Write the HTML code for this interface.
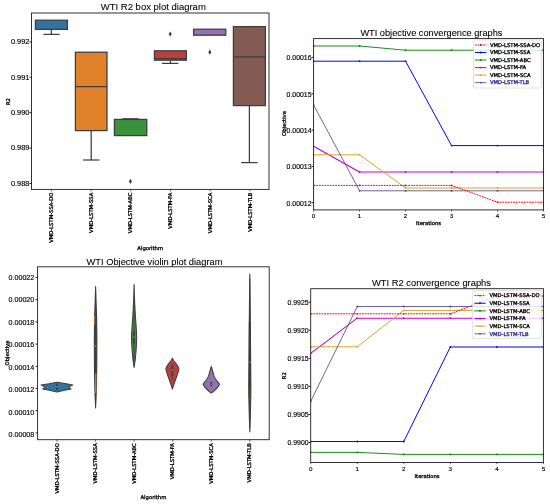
<!DOCTYPE html>
<html lang="en"><head><meta charset="utf-8"><title>WTI plots</title>
<style>html,body{margin:0;padding:0;background:#fff}svg{display:block}</style></head>
<body>
<svg width="550" height="504" viewBox="0 0 550 504">
<rect x="0" y="0" width="550" height="504" fill="#ffffff"/>
<text x="153.30" y="10.00" font-size="9.3" text-anchor="middle" font-family="Liberation Sans, Arial, sans-serif" stroke="#000" stroke-width="0.08" fill="#000" textLength="105.00" lengthAdjust="spacingAndGlyphs" >WTI R2 box plot diagram</text>
<text x="29.50" y="44.18" font-size="7.45" text-anchor="end" font-family="Liberation Sans, Arial, sans-serif" stroke="#000" stroke-width="0.15" fill="#000" >0.992</text>
<text x="29.50" y="79.58" font-size="7.45" text-anchor="end" font-family="Liberation Sans, Arial, sans-serif" stroke="#000" stroke-width="0.15" fill="#000" >0.991</text>
<text x="29.50" y="114.98" font-size="7.45" text-anchor="end" font-family="Liberation Sans, Arial, sans-serif" stroke="#000" stroke-width="0.15" fill="#000" >0.990</text>
<text x="29.50" y="150.38" font-size="7.45" text-anchor="end" font-family="Liberation Sans, Arial, sans-serif" stroke="#000" stroke-width="0.15" fill="#000" >0.989</text>
<text x="29.50" y="185.78" font-size="7.45" text-anchor="end" font-family="Liberation Sans, Arial, sans-serif" stroke="#000" stroke-width="0.15" fill="#000" >0.988</text>
<line x1="29.50" y1="41.90" x2="31.50" y2="41.90" stroke="#000" stroke-width="0.9" />
<line x1="29.50" y1="77.30" x2="31.50" y2="77.30" stroke="#000" stroke-width="0.9" />
<line x1="29.50" y1="112.70" x2="31.50" y2="112.70" stroke="#000" stroke-width="0.9" />
<line x1="29.50" y1="148.10" x2="31.50" y2="148.10" stroke="#000" stroke-width="0.9" />
<line x1="29.50" y1="183.50" x2="31.50" y2="183.50" stroke="#000" stroke-width="0.9" />
<line x1="51.40" y1="29.40" x2="51.40" y2="34.40" stroke="#3d3d3d" stroke-width="1.25" />
<line x1="43.40" y1="34.40" x2="59.60" y2="34.40" stroke="#3d3d3d" stroke-width="1.25" />
<rect x="35.40" y="20.20" width="32.00" height="9.20" fill="#3274a1" stroke="#3d3d3d" stroke-width="1.25" />
<line x1="91.20" y1="130.60" x2="91.20" y2="160.00" stroke="#3d3d3d" stroke-width="1.25" />
<line x1="83.20" y1="160.00" x2="99.40" y2="160.00" stroke="#3d3d3d" stroke-width="1.25" />
<rect x="75.40" y="52.20" width="31.60" height="78.40" fill="#e1812c" stroke="#3d3d3d" stroke-width="1.25" />
<line x1="75.40" y1="86.60" x2="107.00" y2="86.60" stroke="#3d3d3d" stroke-width="1.25" />
<line x1="130.60" y1="119.40" x2="130.60" y2="118.80" stroke="#3d3d3d" stroke-width="1.25" />
<line x1="122.40" y1="118.80" x2="138.80" y2="118.80" stroke="#3d3d3d" stroke-width="1.25" />
<rect x="114.40" y="119.40" width="32.40" height="16.20" fill="#3a923a" stroke="#3d3d3d" stroke-width="1.25" />
<path d="M130.40 178.80 L131.90 181.40 L130.40 184.00 L128.90 181.40 Z" fill="#3d3d3d"/>
<line x1="170.40" y1="60.20" x2="170.40" y2="63.40" stroke="#3d3d3d" stroke-width="1.25" />
<line x1="162.00" y1="63.40" x2="178.40" y2="63.40" stroke="#3d3d3d" stroke-width="1.25" />
<rect x="154.40" y="50.80" width="32.00" height="9.40" fill="#c03d3e" stroke="#3d3d3d" stroke-width="1.25" />
<line x1="154.40" y1="58.60" x2="186.40" y2="58.60" stroke="#3d3d3d" stroke-width="1.25" />
<path d="M170.20 31.40 L171.70 34.00 L170.20 36.60 L168.70 34.00 Z" fill="#3d3d3d"/>
<rect x="193.60" y="29.20" width="32.20" height="6.00" fill="#9372b2" stroke="#3d3d3d" stroke-width="1.25" />
<path d="M209.80 49.60 L211.30 52.20 L209.80 54.80 L208.30 52.20 Z" fill="#3d3d3d"/>
<line x1="249.40" y1="105.60" x2="249.40" y2="162.60" stroke="#3d3d3d" stroke-width="1.25" />
<line x1="241.20" y1="162.60" x2="257.60" y2="162.60" stroke="#3d3d3d" stroke-width="1.25" />
<rect x="233.40" y="26.60" width="32.00" height="79.00" fill="#845b53" stroke="#3d3d3d" stroke-width="1.25" />
<line x1="233.40" y1="56.80" x2="265.40" y2="56.80" stroke="#3d3d3d" stroke-width="1.25" />
<rect x="31.50" y="13.00" width="237.50" height="176.40" fill="none" stroke="#1c1c1c" stroke-width="0.9" />
<line x1="51.40" y1="189.40" x2="51.40" y2="191.40" stroke="#000" stroke-width="0.6" />
<text x="53.10" y="192.60" font-size="5.25" text-anchor="end" font-family="DejaVu Sans, Liberation Sans, sans-serif" stroke-width="0.3" paint-order="stroke" fill="#000" stroke="#000" transform="rotate(-90 53.10 192.60)" >VMD-LSTM-SSA-DO</text>
<line x1="91.10" y1="189.40" x2="91.10" y2="191.40" stroke="#000" stroke-width="0.6" />
<text x="92.80" y="192.60" font-size="5.25" text-anchor="end" font-family="DejaVu Sans, Liberation Sans, sans-serif" stroke-width="0.3" paint-order="stroke" fill="#000" stroke="#000" transform="rotate(-90 92.80 192.60)" >VMD-LSTM-SSA</text>
<line x1="130.80" y1="189.40" x2="130.80" y2="191.40" stroke="#000" stroke-width="0.6" />
<text x="132.50" y="192.60" font-size="5.25" text-anchor="end" font-family="DejaVu Sans, Liberation Sans, sans-serif" stroke-width="0.3" paint-order="stroke" fill="#000" stroke="#000" transform="rotate(-90 132.50 192.60)" >VMD-LSTM-ABC</text>
<line x1="170.50" y1="189.40" x2="170.50" y2="191.40" stroke="#000" stroke-width="0.6" />
<text x="172.20" y="192.60" font-size="5.25" text-anchor="end" font-family="DejaVu Sans, Liberation Sans, sans-serif" stroke-width="0.3" paint-order="stroke" fill="#000" stroke="#000" transform="rotate(-90 172.20 192.60)" >VMD-LSTM-FA</text>
<line x1="210.20" y1="189.40" x2="210.20" y2="191.40" stroke="#000" stroke-width="0.6" />
<text x="211.90" y="192.60" font-size="5.25" text-anchor="end" font-family="DejaVu Sans, Liberation Sans, sans-serif" stroke-width="0.3" paint-order="stroke" fill="#000" stroke="#000" transform="rotate(-90 211.90 192.60)" >VMD-LSTM-SCA</text>
<line x1="249.90" y1="189.40" x2="249.90" y2="191.40" stroke="#000" stroke-width="0.6" />
<text x="251.60" y="192.60" font-size="5.25" text-anchor="end" font-family="DejaVu Sans, Liberation Sans, sans-serif" stroke-width="0.3" paint-order="stroke" fill="#000" stroke="#000" transform="rotate(-90 251.60 192.60)" >VMD-LSTM-TLB</text>
<text x="150.20" y="249.70" font-size="5.25" text-anchor="middle" font-family="DejaVu Sans, Liberation Sans, sans-serif" stroke-width="0.3" paint-order="stroke" fill="#000" stroke="#000" >Algorithm</text>
<text x="9.80" y="101.60" font-size="5.25" text-anchor="middle" font-family="DejaVu Sans, Liberation Sans, sans-serif" stroke-width="0.3" paint-order="stroke" fill="#000" stroke="#000" transform="rotate(-90 9.80 101.60)" >R2</text>
<text x="154.50" y="264.60" font-size="9.3" text-anchor="middle" font-family="Liberation Sans, Arial, sans-serif" stroke="#000" stroke-width="0.08" fill="#000" textLength="135.80" lengthAdjust="spacingAndGlyphs" >WTI Objective violin plot diagram</text>
<text x="34.30" y="279.57" font-size="7.15" text-anchor="end" font-family="Liberation Sans, Arial, sans-serif" stroke="#000" stroke-width="0.15" fill="#000" >0.00022</text>
<text x="34.30" y="302.08" font-size="7.15" text-anchor="end" font-family="Liberation Sans, Arial, sans-serif" stroke="#000" stroke-width="0.15" fill="#000" >0.00020</text>
<text x="34.30" y="324.59" font-size="7.15" text-anchor="end" font-family="Liberation Sans, Arial, sans-serif" stroke="#000" stroke-width="0.15" fill="#000" >0.00018</text>
<text x="34.30" y="347.10" font-size="7.15" text-anchor="end" font-family="Liberation Sans, Arial, sans-serif" stroke="#000" stroke-width="0.15" fill="#000" >0.00016</text>
<text x="34.30" y="369.61" font-size="7.15" text-anchor="end" font-family="Liberation Sans, Arial, sans-serif" stroke="#000" stroke-width="0.15" fill="#000" >0.00014</text>
<text x="34.30" y="392.12" font-size="7.15" text-anchor="end" font-family="Liberation Sans, Arial, sans-serif" stroke="#000" stroke-width="0.15" fill="#000" >0.00012</text>
<text x="34.30" y="414.63" font-size="7.15" text-anchor="end" font-family="Liberation Sans, Arial, sans-serif" stroke="#000" stroke-width="0.15" fill="#000" >0.00010</text>
<text x="34.30" y="437.14" font-size="7.15" text-anchor="end" font-family="Liberation Sans, Arial, sans-serif" stroke="#000" stroke-width="0.15" fill="#000" >0.00008</text>
<line x1="35.60" y1="277.50" x2="37.60" y2="277.50" stroke="#000" stroke-width="0.9" />
<line x1="35.60" y1="299.70" x2="37.60" y2="299.70" stroke="#000" stroke-width="0.9" />
<line x1="35.60" y1="321.90" x2="37.60" y2="321.90" stroke="#000" stroke-width="0.9" />
<line x1="35.60" y1="344.10" x2="37.60" y2="344.10" stroke="#000" stroke-width="0.9" />
<line x1="35.60" y1="366.30" x2="37.60" y2="366.30" stroke="#000" stroke-width="0.9" />
<line x1="35.60" y1="388.50" x2="37.60" y2="388.50" stroke="#000" stroke-width="0.9" />
<line x1="35.60" y1="410.70" x2="37.60" y2="410.70" stroke="#000" stroke-width="0.9" />
<line x1="35.60" y1="432.90" x2="37.60" y2="432.90" stroke="#000" stroke-width="0.9" />
<path d="M41.1 385.1 L49 383.8 L56.9 382.3 L64.8 383.6 L72.8 385.1 L68.6 387.1 L71.0 389.0 L64.5 390.3 L56.9 392.0 L49.3 390.3 L42.8 389.0 L45.2 387.1 Z" fill="#3274a1" stroke="#3d3d3d" stroke-width="1.05" stroke-linejoin="round"/>
<line x1="57.00" y1="383.80" x2="57.00" y2="390.00" stroke="#4a3f3a" stroke-width="2.0" />
<circle cx="57" cy="386.8" r="0.6" fill="#ddd"/>
<path d="M95.60 286.60 L95.67 288.66 L95.72 290.72 L95.78 292.77 L95.85 294.83 L95.91 296.89 L95.97 298.95 L96.04 301.00 L96.12 303.06 L96.19 305.12 L96.27 307.18 L96.35 309.23 L96.42 311.29 L96.50 313.35 L96.56 315.41 L96.61 317.46 L96.64 319.52 L96.67 321.58 L96.70 323.64 L96.72 325.69 L96.75 327.75 L96.77 329.81 L96.80 331.87 L96.82 333.93 L96.85 335.98 L96.87 338.04 L96.88 340.10 L96.88 342.16 L96.87 344.21 L96.86 346.27 L96.85 348.33 L96.84 350.39 L96.82 352.44 L96.81 354.50 L96.80 356.56 L96.79 358.62 L96.77 360.67 L96.76 362.73 L96.75 364.79 L96.74 366.85 L96.72 368.91 L96.71 370.96 L96.68 373.02 L96.65 375.08 L96.60 377.14 L96.55 379.19 L96.50 381.25 L96.45 383.31 L96.41 385.37 L96.36 387.42 L96.31 389.48 L96.26 391.54 L96.19 393.60 L96.12 395.65 L96.04 397.71 L95.95 399.77 L95.86 401.83 L95.78 403.88 L95.70 405.94 L95.60 408.00 L95.60 408.00 L95.50 405.94 L95.42 403.88 L95.34 401.83 L95.25 399.77 L95.16 397.71 L95.08 395.65 L95.01 393.60 L94.94 391.54 L94.89 389.48 L94.84 387.42 L94.79 385.37 L94.75 383.31 L94.70 381.25 L94.65 379.19 L94.60 377.14 L94.55 375.08 L94.52 373.02 L94.49 370.96 L94.48 368.91 L94.46 366.85 L94.45 364.79 L94.44 362.73 L94.43 360.67 L94.41 358.62 L94.40 356.56 L94.39 354.50 L94.38 352.44 L94.36 350.39 L94.35 348.33 L94.34 346.27 L94.33 344.21 L94.32 342.16 L94.32 340.10 L94.33 338.04 L94.35 335.98 L94.38 333.93 L94.40 331.87 L94.43 329.81 L94.45 327.75 L94.48 325.69 L94.50 323.64 L94.53 321.58 L94.56 319.52 L94.59 317.46 L94.64 315.41 L94.70 313.35 L94.78 311.29 L94.85 309.23 L94.93 307.18 L95.01 305.12 L95.08 303.06 L95.16 301.00 L95.23 298.95 L95.29 296.89 L95.35 294.83 L95.42 292.77 L95.48 290.72 L95.53 288.66 L95.60 286.60 Z" fill="#e1812c" stroke="#3d3d3d" stroke-width="1.05" stroke-linejoin="round"/>
<line x1="95.60" y1="290.00" x2="95.60" y2="402.00" stroke="#3d3d3d" stroke-width="0.9" />
<line x1="95.60" y1="318.00" x2="95.60" y2="373.00" stroke="#3d3d3d" stroke-width="2.2" />
<circle cx="95.6" cy="346" r="0.55" fill="#ddd"/>
<line x1="95.75" y1="373.50" x2="95.75" y2="393.00" stroke="#e1812c" stroke-width="1.1" />
<line x1="94.70" y1="316.00" x2="94.70" y2="325.00" stroke="#e1812c" stroke-width="0.7" />
<path d="M134.10 284.40 L134.15 285.81 L134.18 287.22 L134.22 288.63 L134.26 290.03 L134.30 291.44 L134.34 292.85 L134.38 294.26 L134.43 295.67 L134.47 297.08 L134.51 298.48 L134.56 299.89 L134.62 301.30 L134.69 302.71 L134.76 304.12 L134.84 305.53 L134.91 306.94 L134.98 308.34 L135.05 309.75 L135.13 311.16 L135.20 312.57 L135.27 313.98 L135.35 315.39 L135.44 316.79 L135.54 318.20 L135.65 319.61 L135.75 321.02 L135.86 322.43 L135.96 323.84 L136.07 325.25 L136.16 326.65 L136.25 328.06 L136.33 329.47 L136.41 330.88 L136.48 332.29 L136.56 333.70 L136.63 335.11 L136.67 336.51 L136.68 337.92 L136.65 339.33 L136.60 340.74 L136.54 342.15 L136.48 343.56 L136.41 344.96 L136.35 346.37 L136.26 347.78 L136.17 349.19 L136.06 350.60 L135.94 352.01 L135.83 353.42 L135.71 354.82 L135.60 356.23 L135.47 357.64 L135.31 359.05 L135.13 360.46 L134.93 361.87 L134.72 363.27 L134.52 364.68 L134.33 366.09 L134.10 367.50 L134.10 367.50 L133.87 366.09 L133.68 364.68 L133.48 363.27 L133.27 361.87 L133.07 360.46 L132.89 359.05 L132.73 357.64 L132.60 356.23 L132.49 354.82 L132.37 353.42 L132.26 352.01 L132.14 350.60 L132.03 349.19 L131.94 347.78 L131.85 346.37 L131.79 344.96 L131.72 343.56 L131.66 342.15 L131.60 340.74 L131.55 339.33 L131.52 337.92 L131.53 336.51 L131.57 335.11 L131.64 333.70 L131.72 332.29 L131.79 330.88 L131.87 329.47 L131.95 328.06 L132.04 326.65 L132.13 325.25 L132.24 323.84 L132.34 322.43 L132.45 321.02 L132.55 319.61 L132.66 318.20 L132.76 316.79 L132.85 315.39 L132.93 313.98 L133.00 312.57 L133.07 311.16 L133.15 309.75 L133.22 308.34 L133.29 306.94 L133.36 305.53 L133.44 304.12 L133.51 302.71 L133.58 301.30 L133.64 299.89 L133.69 298.48 L133.73 297.08 L133.77 295.67 L133.82 294.26 L133.86 292.85 L133.90 291.44 L133.94 290.03 L133.98 288.63 L134.02 287.22 L134.05 285.81 L134.10 284.40 Z" fill="#3a923a" stroke="#3d3d3d" stroke-width="1.05" stroke-linejoin="round"/>
<line x1="134.10" y1="300.00" x2="134.10" y2="362.00" stroke="#3d3d3d" stroke-width="0.9" />
<line x1="134.10" y1="331.70" x2="134.10" y2="343.70" stroke="#3d3d3d" stroke-width="1.8" />
<circle cx="134.1" cy="337" r="0.55" fill="#ddd"/>
<path d="M172.4 358.0 C173.2 361.5 178.4 365 178.9 369 C178.6 372.5 174.0 383 172.4 389.0 C170.8 383 166.2 372.5 165.9 369 C166.4 365 171.6 361.5 172.4 358.0 Z" fill="#c03d3e" stroke="#3d3d3d" stroke-width="1.05" stroke-linejoin="round"/>
<line x1="172.40" y1="364.00" x2="172.40" y2="380.00" stroke="#3d3d3d" stroke-width="0.9" />
<line x1="172.40" y1="365.50" x2="172.40" y2="376.00" stroke="#3d3d3d" stroke-width="1.7" />
<circle cx="172.4" cy="370" r="0.55" fill="#ddd"/>
<path d="M211.3 366.3 L213.6 374.5 C214.4 378 217.0 381 219.5 384.2 C218.5 386.5 214.5 391.5 211.3 392.9 C208.1 391.5 204.1 386.5 203.1 384.2 C205.6 381 208.2 378 209.0 374.5 Z" fill="#9372b2" stroke="#3d3d3d" stroke-width="1.05" stroke-linejoin="round"/>
<line x1="211.30" y1="381.80" x2="211.30" y2="386.30" stroke="#3d3d3d" stroke-width="2.0" />
<circle cx="211.3" cy="384" r="0.55" fill="#ddd"/>
<path d="M249.80 274.00 L249.83 276.68 L249.86 279.36 L249.89 282.03 L249.92 284.71 L249.95 287.39 L249.99 290.07 L250.02 292.75 L250.05 295.42 L250.08 298.10 L250.11 300.78 L250.13 303.46 L250.16 306.14 L250.19 308.81 L250.21 311.49 L250.24 314.17 L250.27 316.85 L250.30 319.53 L250.32 322.20 L250.35 324.88 L250.37 327.56 L250.40 330.24 L250.42 332.92 L250.45 335.59 L250.47 338.27 L250.49 340.95 L250.51 343.63 L250.54 346.31 L250.56 348.98 L250.58 351.66 L250.60 354.34 L250.63 357.02 L250.65 359.69 L250.67 362.37 L250.69 365.05 L250.71 367.73 L250.74 370.41 L250.76 373.08 L250.78 375.76 L250.80 378.44 L250.83 381.12 L250.85 383.80 L250.86 386.47 L250.87 389.15 L250.85 391.83 L250.81 394.51 L250.76 397.19 L250.70 399.86 L250.65 402.54 L250.59 405.22 L250.54 407.90 L250.47 410.58 L250.39 413.25 L250.31 415.93 L250.23 418.61 L250.14 421.29 L250.06 423.97 L249.97 426.64 L249.89 429.32 L249.80 432.00 L249.80 432.00 L249.71 429.32 L249.63 426.64 L249.54 423.97 L249.46 421.29 L249.37 418.61 L249.29 415.93 L249.21 413.25 L249.13 410.58 L249.06 407.90 L249.01 405.22 L248.95 402.54 L248.90 399.86 L248.84 397.19 L248.79 394.51 L248.75 391.83 L248.73 389.15 L248.74 386.47 L248.75 383.80 L248.77 381.12 L248.80 378.44 L248.82 375.76 L248.84 373.08 L248.86 370.41 L248.89 367.73 L248.91 365.05 L248.93 362.37 L248.95 359.69 L248.97 357.02 L249.00 354.34 L249.02 351.66 L249.04 348.98 L249.06 346.31 L249.09 343.63 L249.11 340.95 L249.13 338.27 L249.15 335.59 L249.18 332.92 L249.20 330.24 L249.23 327.56 L249.25 324.88 L249.28 322.20 L249.30 319.53 L249.33 316.85 L249.36 314.17 L249.39 311.49 L249.41 308.81 L249.44 306.14 L249.47 303.46 L249.49 300.78 L249.52 298.10 L249.55 295.42 L249.58 292.75 L249.61 290.07 L249.65 287.39 L249.68 284.71 L249.71 282.03 L249.74 279.36 L249.77 276.68 L249.80 274.00 Z" fill="#845b53" stroke="#3d3d3d" stroke-width="1.05" stroke-linejoin="round"/>
<line x1="249.80" y1="278.00" x2="249.80" y2="428.00" stroke="#3d3d3d" stroke-width="0.9" />
<line x1="249.80" y1="322.00" x2="249.80" y2="398.00" stroke="#3d3d3d" stroke-width="2.0" />
<circle cx="249.8" cy="362" r="0.55" fill="#ddd"/>
<line x1="249.90" y1="386.00" x2="249.90" y2="400.00" stroke="#6e4a42" stroke-width="0.9" />
<rect x="37.60" y="266.80" width="231.60" height="172.90" fill="none" stroke="#1c1c1c" stroke-width="0.9" />
<line x1="57.00" y1="439.70" x2="57.00" y2="441.70" stroke="#000" stroke-width="0.6" />
<text x="58.70" y="443.20" font-size="5.25" text-anchor="end" font-family="DejaVu Sans, Liberation Sans, sans-serif" stroke-width="0.3" paint-order="stroke" fill="#000" stroke="#000" transform="rotate(-90 58.70 443.20)" >VMD-LSTM-SSA-DO</text>
<line x1="95.56" y1="439.70" x2="95.56" y2="441.70" stroke="#000" stroke-width="0.6" />
<text x="97.26" y="443.20" font-size="5.25" text-anchor="end" font-family="DejaVu Sans, Liberation Sans, sans-serif" stroke-width="0.3" paint-order="stroke" fill="#000" stroke="#000" transform="rotate(-90 97.26 443.20)" >VMD-LSTM-SSA</text>
<line x1="134.12" y1="439.70" x2="134.12" y2="441.70" stroke="#000" stroke-width="0.6" />
<text x="135.82" y="443.20" font-size="5.25" text-anchor="end" font-family="DejaVu Sans, Liberation Sans, sans-serif" stroke-width="0.3" paint-order="stroke" fill="#000" stroke="#000" transform="rotate(-90 135.82 443.20)" >VMD-LSTM-ABC</text>
<line x1="172.68" y1="439.70" x2="172.68" y2="441.70" stroke="#000" stroke-width="0.6" />
<text x="174.38" y="443.20" font-size="5.25" text-anchor="end" font-family="DejaVu Sans, Liberation Sans, sans-serif" stroke-width="0.3" paint-order="stroke" fill="#000" stroke="#000" transform="rotate(-90 174.38 443.20)" >VMD-LSTM-FA</text>
<line x1="211.24" y1="439.70" x2="211.24" y2="441.70" stroke="#000" stroke-width="0.6" />
<text x="212.94" y="443.20" font-size="5.25" text-anchor="end" font-family="DejaVu Sans, Liberation Sans, sans-serif" stroke-width="0.3" paint-order="stroke" fill="#000" stroke="#000" transform="rotate(-90 212.94 443.20)" >VMD-LSTM-SCA</text>
<line x1="249.80" y1="439.70" x2="249.80" y2="441.70" stroke="#000" stroke-width="0.6" />
<text x="251.50" y="443.20" font-size="5.25" text-anchor="end" font-family="DejaVu Sans, Liberation Sans, sans-serif" stroke-width="0.3" paint-order="stroke" fill="#000" stroke="#000" transform="rotate(-90 251.50 443.20)" >VMD-LSTM-TLB</text>
<text x="153.40" y="499.00" font-size="5.25" text-anchor="middle" font-family="DejaVu Sans, Liberation Sans, sans-serif" stroke-width="0.3" paint-order="stroke" fill="#000" stroke="#000" >Algorithm</text>
<text x="9.30" y="353.00" font-size="5.25" text-anchor="middle" font-family="DejaVu Sans, Liberation Sans, sans-serif" stroke-width="0.3" paint-order="stroke" fill="#000" stroke="#000" transform="rotate(-90 9.30 353.00)" >Objective</text>
<text x="431.40" y="36.00" font-size="9.3" text-anchor="middle" font-family="Liberation Sans, Arial, sans-serif" stroke="#000" stroke-width="0.08" fill="#000" textLength="142.00" lengthAdjust="spacingAndGlyphs" >WTI objective convergence graphs</text>
<text x="311.50" y="60.28" font-size="6.9" text-anchor="end" font-family="Liberation Sans, Arial, sans-serif" stroke="#000" stroke-width="0.15" fill="#000" >0.00016</text>
<text x="311.50" y="96.68" font-size="6.9" text-anchor="end" font-family="Liberation Sans, Arial, sans-serif" stroke="#000" stroke-width="0.15" fill="#000" >0.00015</text>
<text x="311.50" y="132.98" font-size="6.9" text-anchor="end" font-family="Liberation Sans, Arial, sans-serif" stroke="#000" stroke-width="0.15" fill="#000" >0.00014</text>
<text x="311.50" y="169.28" font-size="6.9" text-anchor="end" font-family="Liberation Sans, Arial, sans-serif" stroke="#000" stroke-width="0.15" fill="#000" >0.00013</text>
<text x="311.50" y="205.58" font-size="6.9" text-anchor="end" font-family="Liberation Sans, Arial, sans-serif" stroke="#000" stroke-width="0.15" fill="#000" >0.00012</text>
<line x1="311.60" y1="57.40" x2="313.60" y2="57.40" stroke="#000" stroke-width="0.9" />
<line x1="311.60" y1="93.80" x2="313.60" y2="93.80" stroke="#000" stroke-width="0.9" />
<line x1="311.60" y1="130.10" x2="313.60" y2="130.10" stroke="#000" stroke-width="0.9" />
<line x1="311.60" y1="166.40" x2="313.60" y2="166.40" stroke="#000" stroke-width="0.9" />
<line x1="311.60" y1="202.70" x2="313.60" y2="202.70" stroke="#000" stroke-width="0.9" />
<clipPath id="c38"><rect x="313.6" y="38.6" width="229.89999999999998" height="171.3"/></clipPath>
<g clip-path="url(#c38)">
<polyline points="313.60,46.00 359.58,46.00 405.56,50.20 451.54,50.20 497.52,50.20 543.50,50.20" fill="none" stroke="#008000" stroke-width="0.9" stroke-linejoin="round"/>
<circle cx="313.60" cy="46.00" r="0.9" fill="#008000"/>
<circle cx="359.58" cy="46.00" r="0.9" fill="#008000"/>
<circle cx="405.56" cy="50.20" r="0.9" fill="#008000"/>
<circle cx="451.54" cy="50.20" r="0.9" fill="#008000"/>
<circle cx="497.52" cy="50.20" r="0.9" fill="#008000"/>
<circle cx="543.50" cy="50.20" r="0.9" fill="#008000"/>
<polyline points="313.60,61.20 359.58,61.20 405.56,61.20 451.54,145.60 497.52,145.60 543.50,145.60" fill="none" stroke="#0000ff" stroke-width="1.0" stroke-linejoin="round"/>
<circle cx="313.60" cy="61.20" r="0.9" fill="#0000ff"/>
<circle cx="359.58" cy="61.20" r="0.9" fill="#0000ff"/>
<circle cx="405.56" cy="61.20" r="0.9" fill="#0000ff"/>
<circle cx="451.54" cy="145.60" r="0.9" fill="#0000ff"/>
<circle cx="497.52" cy="145.60" r="0.9" fill="#0000ff"/>
<circle cx="543.50" cy="145.60" r="0.9" fill="#0000ff"/>
<polyline points="313.60,146.20 359.58,172.00 405.56,172.00 451.54,172.00 497.52,172.00 543.50,172.00" fill="none" stroke="#c800d8" stroke-width="1.05" stroke-linejoin="round"/>
<circle cx="313.60" cy="146.20" r="0.9" fill="#c800d8"/>
<circle cx="359.58" cy="172.00" r="0.9" fill="#c800d8"/>
<circle cx="405.56" cy="172.00" r="0.9" fill="#c800d8"/>
<circle cx="451.54" cy="172.00" r="0.9" fill="#c800d8"/>
<circle cx="497.52" cy="172.00" r="0.9" fill="#c800d8"/>
<circle cx="543.50" cy="172.00" r="0.9" fill="#c800d8"/>
<polyline points="313.60,154.80 359.58,154.80 405.56,188.00 451.54,188.00 497.52,188.00 543.50,188.00" fill="none" stroke="#daa520" stroke-width="1.0" stroke-linejoin="round"/>
<circle cx="313.60" cy="154.80" r="0.9" fill="#daa520"/>
<circle cx="359.58" cy="154.80" r="0.9" fill="#daa520"/>
<circle cx="405.56" cy="188.00" r="0.9" fill="#daa520"/>
<circle cx="451.54" cy="188.00" r="0.9" fill="#daa520"/>
<circle cx="497.52" cy="188.00" r="0.9" fill="#daa520"/>
<circle cx="543.50" cy="188.00" r="0.9" fill="#daa520"/>
<polyline points="313.60,105.00 359.58,190.80 405.56,190.80 451.54,190.80 497.52,190.80 543.50,190.80" fill="none" stroke="#483d8b" stroke-width="0.8" stroke-linejoin="round"/>
<circle cx="313.60" cy="105.00" r="0.9" fill="#483d8b"/>
<circle cx="359.58" cy="190.80" r="0.9" fill="#483d8b"/>
<circle cx="405.56" cy="190.80" r="0.9" fill="#483d8b"/>
<circle cx="451.54" cy="190.80" r="0.9" fill="#483d8b"/>
<circle cx="497.52" cy="190.80" r="0.9" fill="#483d8b"/>
<circle cx="543.50" cy="190.80" r="0.9" fill="#483d8b"/>
<polyline points="313.60,185.40 359.58,185.40 405.56,185.40 451.54,185.40 497.52,202.20 543.50,202.20" fill="none" stroke="#ff0000" stroke-width="1.0" stroke-dasharray="1.8 0.9" stroke-linejoin="round"/>
<circle cx="313.60" cy="185.40" r="0.9" fill="#ff0000"/>
<circle cx="359.58" cy="185.40" r="0.9" fill="#ff0000"/>
<circle cx="405.56" cy="185.40" r="0.9" fill="#ff0000"/>
<circle cx="451.54" cy="185.40" r="0.9" fill="#ff0000"/>
<circle cx="497.52" cy="202.20" r="0.9" fill="#ff0000"/>
<circle cx="543.50" cy="202.20" r="0.9" fill="#ff0000"/>
</g>
<rect x="313.60" y="38.60" width="229.90" height="171.30" fill="none" stroke="#1c1c1c" stroke-width="0.9" />
<line x1="313.60" y1="209.90" x2="313.60" y2="211.50" stroke="#000" stroke-width="0.6" />
<text x="313.60" y="217.90" font-size="6.2" text-anchor="middle" font-family="Liberation Sans, Arial, sans-serif" stroke="#000" stroke-width="0.15" fill="#000" >0</text>
<line x1="359.58" y1="209.90" x2="359.58" y2="211.50" stroke="#000" stroke-width="0.6" />
<text x="359.58" y="217.90" font-size="6.2" text-anchor="middle" font-family="Liberation Sans, Arial, sans-serif" stroke="#000" stroke-width="0.15" fill="#000" >1</text>
<line x1="405.56" y1="209.90" x2="405.56" y2="211.50" stroke="#000" stroke-width="0.6" />
<text x="405.56" y="217.90" font-size="6.2" text-anchor="middle" font-family="Liberation Sans, Arial, sans-serif" stroke="#000" stroke-width="0.15" fill="#000" >2</text>
<line x1="451.54" y1="209.90" x2="451.54" y2="211.50" stroke="#000" stroke-width="0.6" />
<text x="451.54" y="217.90" font-size="6.2" text-anchor="middle" font-family="Liberation Sans, Arial, sans-serif" stroke="#000" stroke-width="0.15" fill="#000" >3</text>
<line x1="497.52" y1="209.90" x2="497.52" y2="211.50" stroke="#000" stroke-width="0.6" />
<text x="497.52" y="217.90" font-size="6.2" text-anchor="middle" font-family="Liberation Sans, Arial, sans-serif" stroke="#000" stroke-width="0.15" fill="#000" >4</text>
<line x1="543.50" y1="209.90" x2="543.50" y2="211.50" stroke="#000" stroke-width="0.6" />
<text x="543.50" y="217.90" font-size="6.2" text-anchor="middle" font-family="Liberation Sans, Arial, sans-serif" stroke="#000" stroke-width="0.15" fill="#000" >5</text>
<text x="428.55" y="224.90" font-size="5.25" text-anchor="middle" font-family="DejaVu Sans, Liberation Sans, sans-serif" stroke-width="0.3" paint-order="stroke" fill="#000" stroke="#000" >Iterations</text>
<text x="285.60" y="123.50" font-size="5.25" text-anchor="middle" font-family="DejaVu Sans, Liberation Sans, sans-serif" stroke-width="0.3" paint-order="stroke" fill="#000" stroke="#000" transform="rotate(-90 285.60 123.50)" >Objective</text>
<rect x="473.6" y="40.0" width="67.80" height="48.00" rx="1.2" fill="#fff" fill-opacity="0.8" stroke="#ccc" stroke-width="0.6"/>
<line x1="475.0" y1="45.00" x2="486.4" y2="45.00" stroke="#ff0000" stroke-width="1.0" stroke-dasharray="1.8 0.9"/>
<circle cx="480.70" cy="45.00" r="0.9" fill="#ff0000"/>
<text x="490.00" y="46.70" font-size="5.25" text-anchor="start" font-family="DejaVu Sans, Liberation Sans, sans-serif" stroke-width="0.3" paint-order="stroke" fill="#000" stroke="#000" >VMD-LSTM-SSA-DO</text>
<line x1="475.0" y1="52.52" x2="486.4" y2="52.52" stroke="#0000ff" stroke-width="1.0"/>
<circle cx="480.70" cy="52.52" r="0.9" fill="#0000ff"/>
<text x="490.00" y="54.22" font-size="5.25" text-anchor="start" font-family="DejaVu Sans, Liberation Sans, sans-serif" stroke-width="0.3" paint-order="stroke" fill="#000" stroke="#000" >VMD-LSTM-SSA</text>
<line x1="475.0" y1="60.04" x2="486.4" y2="60.04" stroke="#008000" stroke-width="0.9"/>
<circle cx="480.70" cy="60.04" r="0.9" fill="#008000"/>
<text x="490.00" y="61.74" font-size="5.25" text-anchor="start" font-family="DejaVu Sans, Liberation Sans, sans-serif" stroke-width="0.3" paint-order="stroke" fill="#000" stroke="#000" >VMD-LSTM-ABC</text>
<line x1="475.0" y1="67.56" x2="486.4" y2="67.56" stroke="#c800d8" stroke-width="1.05"/>
<circle cx="480.70" cy="67.56" r="0.9" fill="#c800d8"/>
<text x="490.00" y="69.26" font-size="5.25" text-anchor="start" font-family="DejaVu Sans, Liberation Sans, sans-serif" stroke-width="0.3" paint-order="stroke" fill="#000" stroke="#000" >VMD-LSTM-FA</text>
<line x1="475.0" y1="75.08" x2="486.4" y2="75.08" stroke="#daa520" stroke-width="1.0"/>
<circle cx="480.70" cy="75.08" r="0.9" fill="#daa520"/>
<text x="490.00" y="76.78" font-size="5.25" text-anchor="start" font-family="DejaVu Sans, Liberation Sans, sans-serif" stroke-width="0.3" paint-order="stroke" fill="#000" stroke="#000" >VMD-LSTM-SCA</text>
<line x1="475.0" y1="82.60" x2="486.4" y2="82.60" stroke="#483d8b" stroke-width="0.8"/>
<circle cx="480.70" cy="82.60" r="0.9" fill="#483d8b"/>
<text x="490.00" y="84.30" font-size="5.25" text-anchor="start" font-family="DejaVu Sans, Liberation Sans, sans-serif" stroke-width="0.3" paint-order="stroke" fill="#27278a" stroke="#27278a" >VMD-LSTM-TLB</text>
<text x="431.50" y="286.40" font-size="9.3" text-anchor="middle" font-family="Liberation Sans, Arial, sans-serif" stroke="#000" stroke-width="0.08" fill="#000" textLength="119.00" lengthAdjust="spacingAndGlyphs" >WTI R2 convergence graphs</text>
<text x="308.60" y="304.88" font-size="6.9" text-anchor="end" font-family="Liberation Sans, Arial, sans-serif" stroke="#000" stroke-width="0.15" fill="#000" >0.9925</text>
<text x="308.60" y="333.08" font-size="6.9" text-anchor="end" font-family="Liberation Sans, Arial, sans-serif" stroke="#000" stroke-width="0.15" fill="#000" >0.9920</text>
<text x="308.60" y="361.18" font-size="6.9" text-anchor="end" font-family="Liberation Sans, Arial, sans-serif" stroke="#000" stroke-width="0.15" fill="#000" >0.9915</text>
<text x="308.60" y="389.28" font-size="6.9" text-anchor="end" font-family="Liberation Sans, Arial, sans-serif" stroke="#000" stroke-width="0.15" fill="#000" >0.9910</text>
<text x="308.60" y="417.38" font-size="6.9" text-anchor="end" font-family="Liberation Sans, Arial, sans-serif" stroke="#000" stroke-width="0.15" fill="#000" >0.9905</text>
<text x="308.60" y="445.38" font-size="6.9" text-anchor="end" font-family="Liberation Sans, Arial, sans-serif" stroke="#000" stroke-width="0.15" fill="#000" >0.9900</text>
<line x1="308.70" y1="302.00" x2="310.70" y2="302.00" stroke="#000" stroke-width="0.9" />
<line x1="308.70" y1="330.20" x2="310.70" y2="330.20" stroke="#000" stroke-width="0.9" />
<line x1="308.70" y1="358.30" x2="310.70" y2="358.30" stroke="#000" stroke-width="0.9" />
<line x1="308.70" y1="386.40" x2="310.70" y2="386.40" stroke="#000" stroke-width="0.9" />
<line x1="308.70" y1="414.50" x2="310.70" y2="414.50" stroke="#000" stroke-width="0.9" />
<line x1="308.70" y1="442.50" x2="310.70" y2="442.50" stroke="#000" stroke-width="0.9" />
<clipPath id="c288"><rect x="310.7" y="288.7" width="232.7" height="173.8"/></clipPath>
<g clip-path="url(#c288)">
<polyline points="310.70,452.40 357.24,452.40 403.78,454.40 450.32,454.40 496.86,454.40 543.40,454.40" fill="none" stroke="#008000" stroke-width="0.9" stroke-linejoin="round"/>
<circle cx="310.70" cy="452.40" r="0.9" fill="#008000"/>
<circle cx="357.24" cy="452.40" r="0.9" fill="#008000"/>
<circle cx="403.78" cy="454.40" r="0.9" fill="#008000"/>
<circle cx="450.32" cy="454.40" r="0.9" fill="#008000"/>
<circle cx="496.86" cy="454.40" r="0.9" fill="#008000"/>
<circle cx="543.40" cy="454.40" r="0.9" fill="#008000"/>
<polyline points="310.70,441.50 357.24,441.50 403.78,441.50 450.32,347.00 496.86,347.00 543.40,347.00" fill="none" stroke="#0000ff" stroke-width="1.0" stroke-linejoin="round"/>
<circle cx="310.70" cy="441.50" r="0.9" fill="#0000ff"/>
<circle cx="357.24" cy="441.50" r="0.9" fill="#0000ff"/>
<circle cx="403.78" cy="441.50" r="0.9" fill="#0000ff"/>
<circle cx="450.32" cy="347.00" r="0.9" fill="#0000ff"/>
<circle cx="496.86" cy="347.00" r="0.9" fill="#0000ff"/>
<circle cx="543.40" cy="347.00" r="0.9" fill="#0000ff"/>
<polyline points="310.70,353.40 357.24,318.20 403.78,318.20 450.32,318.20 496.86,318.20 543.40,318.20" fill="none" stroke="#c800d8" stroke-width="1.05" stroke-linejoin="round"/>
<circle cx="310.70" cy="353.40" r="0.9" fill="#c800d8"/>
<circle cx="357.24" cy="318.20" r="0.9" fill="#c800d8"/>
<circle cx="403.78" cy="318.20" r="0.9" fill="#c800d8"/>
<circle cx="450.32" cy="318.20" r="0.9" fill="#c800d8"/>
<circle cx="496.86" cy="318.20" r="0.9" fill="#c800d8"/>
<circle cx="543.40" cy="318.20" r="0.9" fill="#c800d8"/>
<polyline points="310.70,346.80 357.24,346.80 403.78,310.40 450.32,310.40 496.86,310.40 543.40,310.40" fill="none" stroke="#daa520" stroke-width="1.0" stroke-linejoin="round"/>
<circle cx="310.70" cy="346.80" r="0.9" fill="#daa520"/>
<circle cx="357.24" cy="346.80" r="0.9" fill="#daa520"/>
<circle cx="403.78" cy="310.40" r="0.9" fill="#daa520"/>
<circle cx="450.32" cy="310.40" r="0.9" fill="#daa520"/>
<circle cx="496.86" cy="310.40" r="0.9" fill="#daa520"/>
<circle cx="543.40" cy="310.40" r="0.9" fill="#daa520"/>
<polyline points="310.70,401.40 357.24,306.50 403.78,306.50 450.32,306.50 496.86,306.50 543.40,306.50" fill="none" stroke="#483d8b" stroke-width="0.8" stroke-linejoin="round"/>
<circle cx="310.70" cy="401.40" r="0.9" fill="#483d8b"/>
<circle cx="357.24" cy="306.50" r="0.9" fill="#483d8b"/>
<circle cx="403.78" cy="306.50" r="0.9" fill="#483d8b"/>
<circle cx="450.32" cy="306.50" r="0.9" fill="#483d8b"/>
<circle cx="496.86" cy="306.50" r="0.9" fill="#483d8b"/>
<circle cx="543.40" cy="306.50" r="0.9" fill="#483d8b"/>
<polyline points="310.70,313.80 357.24,313.80 403.78,313.80 450.32,313.80 496.86,296.00 543.40,296.00" fill="none" stroke="#ff0000" stroke-width="1.0" stroke-dasharray="1.8 0.9" stroke-linejoin="round"/>
<circle cx="310.70" cy="313.80" r="0.9" fill="#ff0000"/>
<circle cx="357.24" cy="313.80" r="0.9" fill="#ff0000"/>
<circle cx="403.78" cy="313.80" r="0.9" fill="#ff0000"/>
<circle cx="450.32" cy="313.80" r="0.9" fill="#ff0000"/>
<circle cx="496.86" cy="296.00" r="0.9" fill="#ff0000"/>
<circle cx="543.40" cy="296.00" r="0.9" fill="#ff0000"/>
</g>
<rect x="310.70" y="288.70" width="232.70" height="173.80" fill="none" stroke="#1c1c1c" stroke-width="0.9" />
<line x1="310.70" y1="462.50" x2="310.70" y2="464.10" stroke="#000" stroke-width="0.6" />
<text x="310.70" y="470.80" font-size="6.2" text-anchor="middle" font-family="Liberation Sans, Arial, sans-serif" stroke="#000" stroke-width="0.15" fill="#000" >0</text>
<line x1="357.24" y1="462.50" x2="357.24" y2="464.10" stroke="#000" stroke-width="0.6" />
<text x="357.24" y="470.80" font-size="6.2" text-anchor="middle" font-family="Liberation Sans, Arial, sans-serif" stroke="#000" stroke-width="0.15" fill="#000" >1</text>
<line x1="403.78" y1="462.50" x2="403.78" y2="464.10" stroke="#000" stroke-width="0.6" />
<text x="403.78" y="470.80" font-size="6.2" text-anchor="middle" font-family="Liberation Sans, Arial, sans-serif" stroke="#000" stroke-width="0.15" fill="#000" >2</text>
<line x1="450.32" y1="462.50" x2="450.32" y2="464.10" stroke="#000" stroke-width="0.6" />
<text x="450.32" y="470.80" font-size="6.2" text-anchor="middle" font-family="Liberation Sans, Arial, sans-serif" stroke="#000" stroke-width="0.15" fill="#000" >3</text>
<line x1="496.86" y1="462.50" x2="496.86" y2="464.10" stroke="#000" stroke-width="0.6" />
<text x="496.86" y="470.80" font-size="6.2" text-anchor="middle" font-family="Liberation Sans, Arial, sans-serif" stroke="#000" stroke-width="0.15" fill="#000" >4</text>
<line x1="543.40" y1="462.50" x2="543.40" y2="464.10" stroke="#000" stroke-width="0.6" />
<text x="543.40" y="470.80" font-size="6.2" text-anchor="middle" font-family="Liberation Sans, Arial, sans-serif" stroke="#000" stroke-width="0.15" fill="#000" >5</text>
<text x="427.05" y="477.60" font-size="5.25" text-anchor="middle" font-family="DejaVu Sans, Liberation Sans, sans-serif" stroke-width="0.3" paint-order="stroke" fill="#000" stroke="#000" >Iterations</text>
<text x="285.60" y="375.70" font-size="5.25" text-anchor="middle" font-family="DejaVu Sans, Liberation Sans, sans-serif" stroke-width="0.3" paint-order="stroke" fill="#000" stroke="#000" transform="rotate(-90 285.60 375.70)" >R2</text>
<rect x="472.4" y="290.4" width="69.00" height="48.00" rx="1.2" fill="#fff" fill-opacity="0.8" stroke="#ccc" stroke-width="0.6"/>
<line x1="474.4" y1="295.60" x2="485.6" y2="295.60" stroke="#ff0000" stroke-width="1.0" stroke-dasharray="1.8 0.9"/>
<circle cx="480.00" cy="295.60" r="0.9" fill="#ff0000"/>
<text x="489.40" y="297.30" font-size="5.25" text-anchor="start" font-family="DejaVu Sans, Liberation Sans, sans-serif" stroke-width="0.3" paint-order="stroke" fill="#000" stroke="#000" >VMD-LSTM-SSA-DO</text>
<line x1="474.4" y1="303.24" x2="485.6" y2="303.24" stroke="#0000ff" stroke-width="1.0"/>
<circle cx="480.00" cy="303.24" r="0.9" fill="#0000ff"/>
<text x="489.40" y="304.94" font-size="5.25" text-anchor="start" font-family="DejaVu Sans, Liberation Sans, sans-serif" stroke-width="0.3" paint-order="stroke" fill="#000" stroke="#000" >VMD-LSTM-SSA</text>
<line x1="474.4" y1="310.88" x2="485.6" y2="310.88" stroke="#008000" stroke-width="0.9"/>
<circle cx="480.00" cy="310.88" r="0.9" fill="#008000"/>
<text x="489.40" y="312.58" font-size="5.25" text-anchor="start" font-family="DejaVu Sans, Liberation Sans, sans-serif" stroke-width="0.3" paint-order="stroke" fill="#000" stroke="#000" >VMD-LSTM-ABC</text>
<line x1="474.4" y1="318.52" x2="485.6" y2="318.52" stroke="#c800d8" stroke-width="1.05"/>
<circle cx="480.00" cy="318.52" r="0.9" fill="#c800d8"/>
<text x="489.40" y="320.22" font-size="5.25" text-anchor="start" font-family="DejaVu Sans, Liberation Sans, sans-serif" stroke-width="0.3" paint-order="stroke" fill="#000" stroke="#000" >VMD-LSTM-FA</text>
<line x1="474.4" y1="326.16" x2="485.6" y2="326.16" stroke="#daa520" stroke-width="1.0"/>
<circle cx="480.00" cy="326.16" r="0.9" fill="#daa520"/>
<text x="489.40" y="327.86" font-size="5.25" text-anchor="start" font-family="DejaVu Sans, Liberation Sans, sans-serif" stroke-width="0.3" paint-order="stroke" fill="#000" stroke="#000" >VMD-LSTM-SCA</text>
<line x1="474.4" y1="333.80" x2="485.6" y2="333.80" stroke="#483d8b" stroke-width="0.8"/>
<circle cx="480.00" cy="333.80" r="0.9" fill="#483d8b"/>
<text x="489.40" y="335.50" font-size="5.25" text-anchor="start" font-family="DejaVu Sans, Liberation Sans, sans-serif" stroke-width="0.3" paint-order="stroke" fill="#27278a" stroke="#27278a" >VMD-LSTM-TLB</text>
</svg>
</body></html>
